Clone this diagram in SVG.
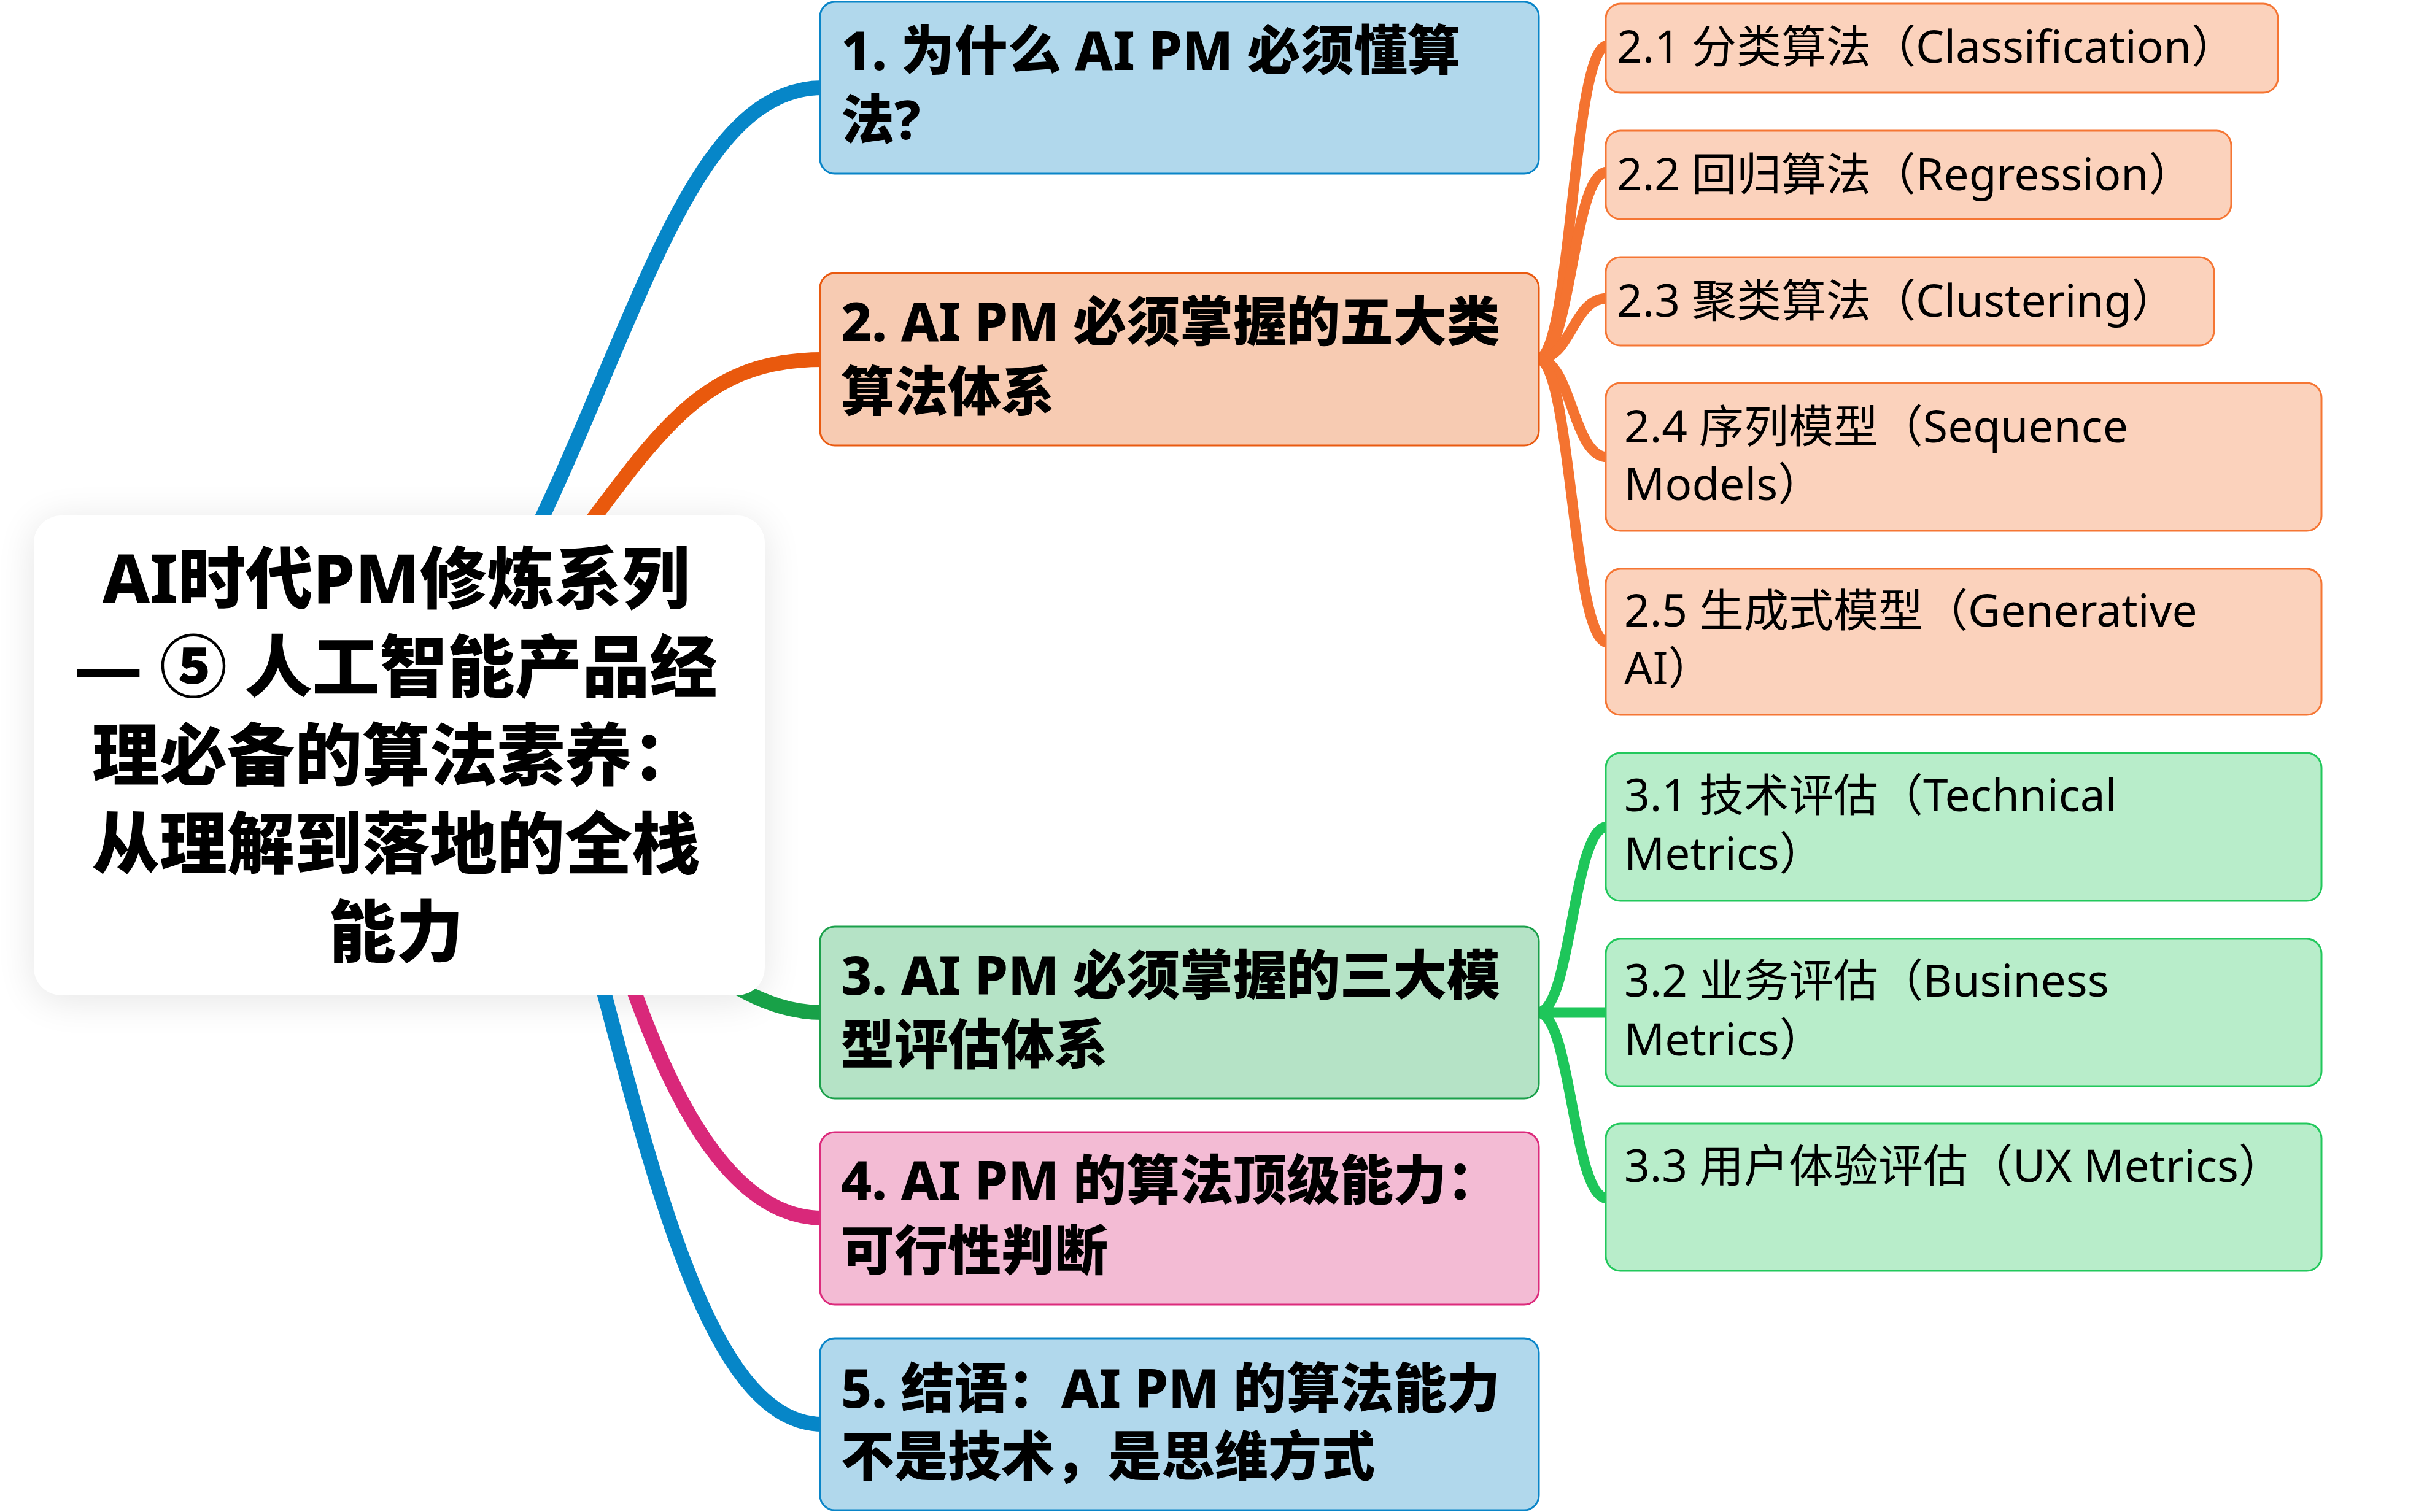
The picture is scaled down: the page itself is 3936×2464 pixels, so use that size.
<svg xmlns="http://www.w3.org/2000/svg" width="3936" height="2464" viewBox="0 0 3936 2464">
<defs>
<filter id="blur" x="-20%" y="-20%" width="140%" height="140%"><feGaussianBlur stdDeviation="32"/></filter>
<style>
text{font-family:"Noto Sans","Noto Sans CJK SC",sans-serif;fill:#000}
.root{font-size:110px;font-weight:800;text-anchor:middle}
.t1{font-size:87px;font-weight:800}
.t2{font-size:73px;font-weight:400}
.c{fill:none;stroke-linecap:butt}
.l1{stroke-width:24}
.l2{stroke-width:17}
.nb{fill:#B1D8EC;stroke:#0A85C8;stroke-width:3}
.no{fill:#F7CBB2;stroke:#E95A10;stroke-width:3}
.ng{fill:#B5E3C6;stroke:#1BA04B;stroke-width:3}
.np{fill:#F3BBD4;stroke:#DC2B7C;stroke-width:3}
.co{fill:#FBD2BC;stroke:#F57634;stroke-width:3}
.cg{fill:#B8EDCA;stroke:#22C85C;stroke-width:3}
</style>
</defs>
<rect width="3936" height="2464" fill="#FFFFFF"/>
<rect x="55" y="848" width="1191" height="782" rx="45" fill="#000" opacity="0.1" filter="url(#blur)"/>
<g id="connectors">
<path class="c l1" stroke="#0686C8" d="M650,1231 C1000,800 1060,143 1340,143"/>
<path class="c l1" stroke="#E9590D" d="M650,1231 C1040,820 1060,586 1340,586"/>
<path class="c l1" stroke="#18A148" d="M1100,1540 C1180,1600 1250,1650 1340,1650"/>
<path class="c l1" stroke="#D9287A" d="M1000,1520 C1060,1700 1160,1985 1340,1985"/>
<path class="c l1" stroke="#0686C8" d="M940,1450 C1060,1900 1150,2321 1340,2321"/>
<path class="c l2" stroke="#F47330" d="M2505,585 C2561,585 2561,74 2619,74"/>
<path class="c l2" stroke="#F47330" d="M2505,585 C2561,585 2561,280 2619,280"/>
<path class="c l2" stroke="#F47330" d="M2505,585 C2561,585 2561,486 2619,486"/>
<path class="c l2" stroke="#F47330" d="M2505,585 C2561,585 2561,745 2619,745"/>
<path class="c l2" stroke="#F47330" d="M2505,585 C2561,585 2561,1047 2619,1047"/>
<path class="c l2" stroke="#1EC65A" d="M2505,1650 C2561,1650 2561,1347 2619,1347"/>
<path class="c l2" stroke="#1EC65A" d="M2505,1650 L2619,1650"/>
<path class="c l2" stroke="#1EC65A" d="M2505,1650 C2561,1650 2561,1953 2619,1953"/>
</g>
<g id="root">
<rect x="55" y="840" width="1191" height="782" rx="45" fill="#FFFFFF"/>
<text class="root" x="645" y="983">AI时代PM修炼系列</text>
<text class="root" x="645" y="1127">— ⑤ 人工智能产品经</text>
<text class="root" x="645" y="1271">理必备的算法素养：</text>
<text class="root" x="645" y="1415">从理解到落地的全栈</text>
<text class="root" x="645" y="1559">能力</text>
</g>
<g id="n1">
<rect class="nb" x="1336" y="3" width="1171" height="280" rx="24"/>
<text class="t1" x="1370" y="114">1. 为什么 AI PM 必须懂算</text>
<text class="t1" x="1370" y="227">法?</text>
</g>
<g id="n2">
<rect class="no" x="1336" y="445" width="1171" height="281" rx="24"/>
<text class="t1" x="1370" y="556">2. AI PM 必须掌握的五大类</text>
<text class="t1" x="1370" y="670">算法体系</text>
</g>
<g id="n3">
<rect class="ng" x="1336" y="1510" width="1171" height="280" rx="24"/>
<text class="t1" x="1370" y="1621">3. AI PM 必须掌握的三大模</text>
<text class="t1" x="1370" y="1734">型评估体系</text>
</g>
<g id="n4">
<rect class="np" x="1336" y="1845" width="1171" height="281" rx="24"/>
<text class="t1" x="1370" y="1955">4. AI PM 的算法顶级能力：</text>
<text class="t1" x="1370" y="2070">可行性判断</text>
</g>
<g id="n5">
<rect class="nb" x="1336" y="2181" width="1171" height="280" rx="24"/>
<text class="t1" x="1370" y="2294">5. 结语：AI PM 的算法能力</text>
<text class="t1" x="1370" y="2405">不是技术，是思维方式</text>
</g>
<g id="n2-1">
<rect class="co" x="2616" y="6" width="1095" height="145" rx="24"/>
<text class="t2" x="2634" y="102">2.1 分类算法（Classification）</text>
</g>
<g id="n2-2">
<rect class="co" x="2616" y="213" width="1019" height="144" rx="24"/>
<text class="t2" x="2634" y="310">2.2 回归算法（Regression）</text>
</g>
<g id="n2-3">
<rect class="co" x="2616" y="419" width="991" height="144" rx="24"/>
<text class="t2" x="2634" y="516">2.3 聚类算法（Clustering）</text>
</g>
<g id="n2-4">
<rect class="co" x="2616" y="624" width="1166" height="241" rx="24"/>
<text class="t2" x="2646" y="721">2.4 序列模型（Sequence</text>
<text class="t2" x="2646" y="815">Models）</text>
</g>
<g id="n2-5">
<rect class="co" x="2616" y="927" width="1166" height="238" rx="24"/>
<text class="t2" x="2646" y="1021">2.5 生成式模型（Generative</text>
<text class="t2" x="2646" y="1115">AI）</text>
</g>
<g id="n3-1">
<rect class="cg" x="2616" y="1227" width="1166" height="241" rx="24"/>
<text class="t2" x="2646" y="1322">3.1 技术评估（Technical</text>
<text class="t2" x="2646" y="1417">Metrics）</text>
</g>
<g id="n3-2">
<rect class="cg" x="2616" y="1530" width="1166" height="240" rx="24"/>
<text class="t2" x="2646" y="1624">3.2 业务评估（Business</text>
<text class="t2" x="2646" y="1720">Metrics）</text>
</g>
<g id="n3-3">
<rect class="cg" x="2616" y="1831" width="1166" height="240" rx="24"/>
<text class="t2" x="2646" y="1926">3.3 用户体验评估（UX Metrics）</text>
</g>
</svg>
